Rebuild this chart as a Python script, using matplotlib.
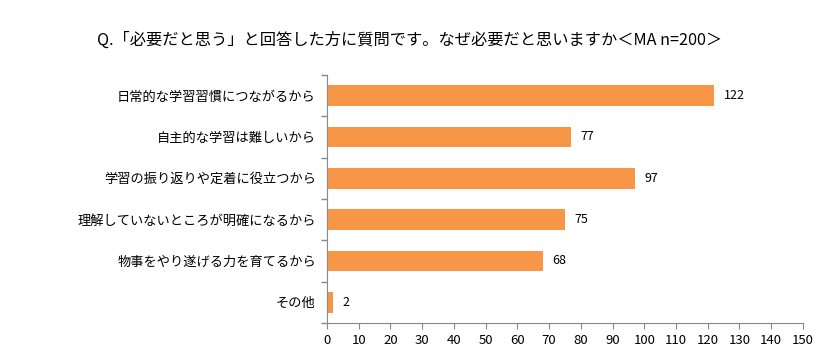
import matplotlib
matplotlib.use("Agg")
import matplotlib.pyplot as plt
from matplotlib.ticker import FixedLocator

plt.rcParams['font.family'] = ['Noto Sans CJK JP', 'DejaVu Sans']

categories = ["日常的な学習習慣につながるから", "自主的な学習は難しいから", "学習の振り返りや定着に役立つから",
              "理解していないところが明確になるから", "物事をやり遂げる力を育てるから", "その他"]
values = [122, 77, 97, 75, 68, 2]
title = "Q.「必要だと思う」と回答した方に質問です。なぜ必要だと思いますか＜MA n=200＞"

fig = plt.figure(figsize=(8.32, 3.53), dpi=100)
ax = fig.add_axes([0.393, 0.085, 0.572, 0.703])
y = list(range(len(categories)))
ax.barh(y, values, height=0.5, color="#F79646")
ax.set_ylim(len(categories) - 0.5, -0.5)
ax.set_xlim(0, 150)
ax.set_xticks(range(0, 151, 10))
ax.set_yticks(y)
ax.set_yticklabels(categories, fontsize=9.5)
ax.yaxis.set_minor_locator(FixedLocator([i - 0.5 for i in range(len(categories) + 1)]))
ax.tick_params(axis='y', which='major', length=0, pad=8)
ax.tick_params(axis='y', which='minor', length=4, color="#888888", width=1)
ax.tick_params(axis='x', length=4, color="#888888", labelsize=9.5, pad=4)
for s in ['top', 'right']:
    ax.spines[s].set_visible(False)
for s in ['left', 'bottom']:
    ax.spines[s].set_color("#888888")
for yi, v in zip(y, values):
    ax.text(v + 3, yi, str(v), va='center', ha='left', fontsize=9)
fig.text(0.492, 0.885, title, ha='center', va='center', fontsize=11.7)
fig.savefig("out.png", dpi=100)
